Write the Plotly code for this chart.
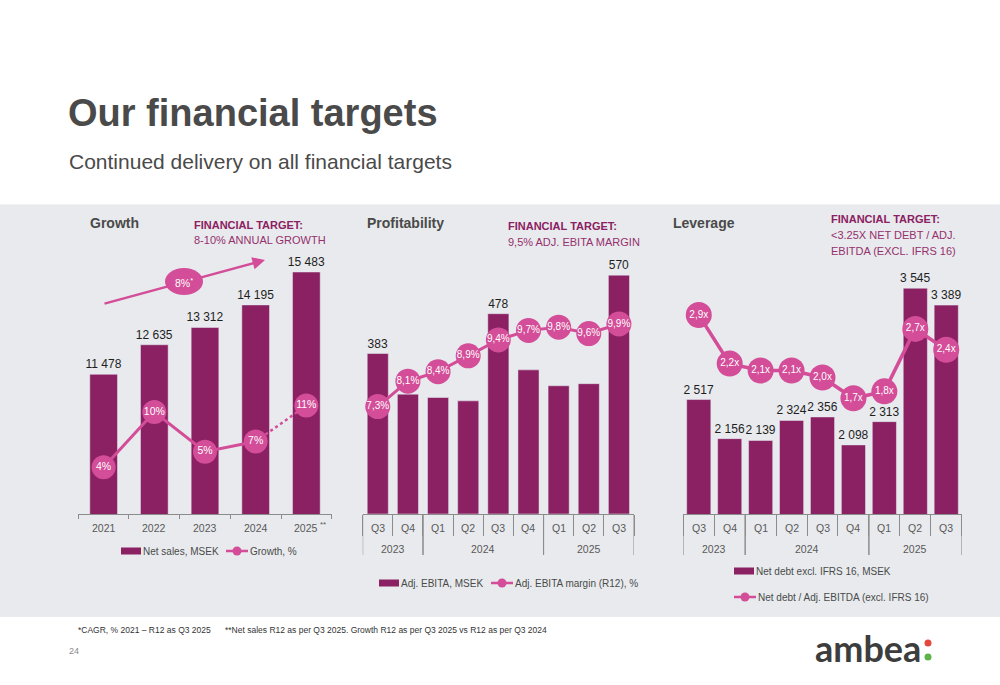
import plotly.graph_objects as go

# ---------------- data ----------------
years = ["2021", "2022", "2023", "2024", "2025"]
net_sales = [11478, 12635, 13312, 14195, 15483]
growth = [4.0, 10.0, 5.7, 6.8, 10.7]
growth_labels = ["4%", "10%", "5%", "7%", "11%"]
cagr_label = "8%"

quarters = ["Q3", "Q4", "Q1", "Q2", "Q3", "Q4", "Q1", "Q2", "Q3"]
quarter_years = ["2023", "2023", "2024", "2024", "2024", "2024", "2025", "2025", "2025"]
adj_ebita = [383, 286, 278, 270, 478, 344, 306, 311, 570]
ebita_shown = [True, False, False, False, True, False, False, False, True]
ebita_margin = [7.3, 8.1, 8.4, 8.9, 9.4, 9.7, 9.8, 9.6, 9.9]

net_debt = [2517, 2156, 2139, 2324, 2356, 2098, 2313, 3545, 3389]
leverage = [2.9, 2.2, 2.1, 2.1, 2.0, 1.7, 1.8, 2.7, 2.4]

# ---------------- style ----------------
W, H = 1000, 685
FONT = "Liberation Sans, Arial, sans-serif"
BAR = "#8b2062"
PINK = "#d34d98"
DARK = "#4a4a4a"
AXIS = "#8c8c8c"
TICKC = "#595959"
PANEL = "#e8eaed"
VAL = 12      # value labels above bars
TICK = 10.5   # axis labels
MK = 10       # labels inside markers
LEG = 10      # legend text


def py(y):
    return 1 - y / H


def px(x):
    return x / W


def sek(v):
    return f"{v:,}".replace(",", " ")


def comma(v, suffix):
    return f"{v:.1f}".replace(".", ",") + suffix


fig = go.Figure()
YDOM = [py(514), py(250)]

# ---------------- growth ----------------
xg = list(range(len(years)))
fig.add_trace(go.Bar(x=xg, y=net_sales, width=0.546, marker_color=BAR,
                     text=[sek(v) for v in net_sales], textposition="outside",
                     constraintext="none", cliponaxis=False,
                     textfont=dict(family=FONT, size=VAL, color="#1e1e1e"),
                     xaxis="x", yaxis="y", showlegend=False, hoverinfo="skip"))
fig.add_trace(go.Scatter(x=xg[:4], y=growth[:4], mode="lines",
                         line=dict(color=PINK, width=3),
                         xaxis="x", yaxis="y2", showlegend=False, hoverinfo="skip"))
fig.add_trace(go.Scatter(x=xg[3:], y=growth[3:], mode="lines",
                         line=dict(color=PINK, width=2.5, dash="dot"),
                         xaxis="x", yaxis="y2", showlegend=False, hoverinfo="skip"))
fig.add_trace(go.Scatter(x=xg, y=growth, mode="markers+text", text=growth_labels,
                         textposition="middle center",
                         textfont=dict(family=FONT, size=MK + 0.5, color="white"),
                         marker=dict(color=PINK, size=24),
                         xaxis="x", yaxis="y2", showlegend=False, hoverinfo="skip", cliponaxis=False))

# ---------------- profitability ----------------
xq = list(range(len(quarters)))
fig.add_trace(go.Bar(x=xq, y=adj_ebita, width=0.70, marker_color=BAR,
                     text=[sek(v) if s else "" for v, s in zip(adj_ebita, ebita_shown)],
                     textposition="outside", constraintext="none", cliponaxis=False,
                     textfont=dict(family=FONT, size=VAL, color="#1e1e1e"),
                     xaxis="x2", yaxis="y3", showlegend=False, hoverinfo="skip"))
fig.add_trace(go.Scatter(x=xq, y=ebita_margin, mode="lines+markers+text",
                         text=[comma(v, "%") for v in ebita_margin],
                         textposition="middle center",
                         textfont=dict(family=FONT, size=MK, color="white"),
                         line=dict(color=PINK, width=3),
                         marker=dict(color=PINK, size=25),
                         xaxis="x2", yaxis="y4", showlegend=False, hoverinfo="skip", cliponaxis=False))

# ---------------- leverage ----------------
fig.add_trace(go.Bar(x=xq, y=net_debt, width=0.78, marker_color=BAR,
                     text=[sek(v) for v in net_debt], textposition="outside",
                     constraintext="none", cliponaxis=False,
                     textfont=dict(family=FONT, size=VAL, color="#1e1e1e"),
                     xaxis="x3", yaxis="y5", showlegend=False, hoverinfo="skip"))
fig.add_trace(go.Scatter(x=xq, y=leverage, mode="lines+markers+text",
                         text=[comma(v, "x") for v in leverage],
                         textposition="middle center",
                         textfont=dict(family=FONT, size=MK, color="white"),
                         line=dict(color=PINK, width=3.5),
                         marker=dict(color=PINK, size=26),
                         xaxis="x3", yaxis="y6", showlegend=False, hoverinfo="skip", cliponaxis=False))

hidden_y = dict(visible=False, showgrid=False, zeroline=False, fixedrange=True)


def xax(dom, n, anchor, ticklen):
    return dict(domain=dom, range=[-0.5, n - 0.5], showgrid=False, zeroline=False,
                showline=True, linecolor=AXIS, linewidth=1, anchor=anchor,
                tickmode="array", tickvals=[i - 0.5 for i in range(n + 1)],
                ticks="outside", ticklen=ticklen, tickcolor=AXIS, tickwidth=1,
                showticklabels=False, fixedrange=True)


fig.update_layout(
    width=W, height=H, margin=dict(l=0, r=0, t=0, b=0),
    paper_bgcolor="white", plot_bgcolor="rgba(0,0,0,0)",
    font=dict(family=FONT, color=DARK),
    xaxis=xax([px(78.3), px(331.7)], 5, "y", 4),
    yaxis=dict(domain=YDOM, range=[6008, 16345], **hidden_y),
    yaxis2=dict(domain=YDOM, range=[-1.06, 27.57], overlaying="y", anchor="x", **hidden_y),
    xaxis2=xax([px(362.7), px(634)], 9, "y3", 21),
    yaxis3=dict(domain=YDOM, range=[0, 630], anchor="x2", **hidden_y),
    yaxis4=dict(domain=YDOM, range=[3.92, 12.23], overlaying="y3", anchor="x2", **hidden_y),
    xaxis3=xax([px(683.3), px(961.7)], 9, "y5", 21),
    yaxis5=dict(domain=YDOM, range=[1460, 3898], anchor="x3", **hidden_y),
    yaxis6=dict(domain=YDOM, range=[0.033, 3.837], overlaying="y5", anchor="x3", **hidden_y),
)

shapes = []
ann = []

# panel background
shapes.append(dict(type="rect", xref="paper", yref="paper", x0=0, x1=1, y0=py(617), y1=py(204.5),
                   fillcolor=PANEL, line=dict(width=0), layer="below"))


def text(x, y, s, size, color=DARK, bold=False, xanchor="left", xref="paper", family=FONT):
    ann.append(dict(x=x if xref != "paper" else px(x), y=py(y), xref=xref, yref="paper",
                    text=s, showarrow=False, xanchor=xanchor, yanchor="middle",
                    font=dict(family=family, size=size, color=color,
                              weight="bold" if bold else "normal")))


# title
text(66, 113, "Our financial targets", 38, "#4a4a4a", bold=True)
text(67, 161, "Continued delivery on all financial targets", 21, "#4a4a4a")

# section headings
text(88, 223, "Growth", 14, DARK, bold=True)
text(192, 225, "FINANCIAL TARGET:", 11, BAR, bold=True)
text(192, 240, "8-10% ANNUAL GROWTH", 11, "#96306e")
text(365, 223, "Profitability", 14, DARK, bold=True)
text(506, 226, "FINANCIAL TARGET:", 11, BAR, bold=True)
text(506, 242, "9,5% ADJ. EBITA MARGIN", 11, "#96306e")
text(671, 223, "Leverage", 14, DARK, bold=True)
text(829, 219, "FINANCIAL TARGET:", 11, BAR, bold=True)
text(829, 235, "<3.25X NET DEBT / ADJ.", 11, "#96306e")
text(829, 251, "EBITDA (EXCL. IFRS 16)", 11, "#96306e")

# growth x labels
for i, yr in enumerate(years):
    text(i, 528, yr, TICK, TICKC, xanchor="center", xref="x")
text(318, 524, "**", 8, TICKC)

# quarter / year labels and separators for the two quarterly charts
groups = []
for i, yv in enumerate(quarter_years):
    if groups and groups[-1][0] == yv:
        groups[-1][2] = i
    else:
        groups.append([yv, i, i])
for xr in ("x2", "x3"):
    for i, q in enumerate(quarters):
        text(i, 528, q, TICK, TICKC, xanchor="center", xref=xr)
    for yv, a, b in groups:
        text((a + b) / 2, 549, yv, TICK, TICKC, xanchor="center", xref=xr)
        for edge in (a - 0.5, b + 0.5):
            shapes.append(dict(type="line", xref=xr, yref="paper", x0=edge, x1=edge,
                               y0=py(514), y1=py(555), line=dict(color=AXIS, width=1)))

# CAGR arrow and bubble
ann.append(dict(x=px(265), y=py(260), xref="paper", yref="paper", ax=103 - 265, ay=304 - 260,
                axref="pixel", ayref="pixel", showarrow=True, arrowhead=2, arrowsize=1,
                arrowwidth=2.5, arrowcolor=PINK, text=""))
shapes.append(dict(type="circle", xref="paper", yref="paper", x0=px(165), x1=px(203),
                   y0=py(295), y1=py(268), fillcolor=PINK, line=dict(width=0)))
text(184, 282, cagr_label + "<sup>*</sup>", 10.5, "white", xanchor="center")


# legends
def leg_bar(x0, y, label):
    shapes.append(dict(type="rect", xref="paper", yref="paper", x0=px(x0), x1=px(x0 + 20),
                       y0=py(y + 3.5), y1=py(y - 3.5), fillcolor=BAR, line=dict(width=0)))
    text(x0 + 20, y, label, LEG, DARK)


def leg_line(x0, y, label):
    shapes.append(dict(type="line", xref="paper", yref="paper", x0=px(x0), x1=px(x0 + 22),
                       y0=py(y), y1=py(y), line=dict(color=PINK, width=2.5)))
    shapes.append(dict(type="circle", xref="paper", yref="paper", x0=px(x0 + 11 - 4.5),
                       x1=px(x0 + 11 + 4.5), y0=py(y + 4.5), y1=py(y - 4.5),
                       fillcolor=PINK, line=dict(width=0)))
    text(x0 + 22, y, label, LEG, DARK)


leg_bar(121, 551, "Net sales, MSEK")
leg_line(226, 551, "Growth, %")
leg_bar(379, 583, "Adj. EBITA, MSEK")
leg_line(491, 583, "Adj. EBITA margin (R12), %")
leg_bar(734, 571, "Net debt excl. IFRS 16, MSEK")
leg_line(734, 597, "Net debt / Adj. EBITDA (excl. IFRS 16)")

# footnotes
text(76, 630, "*CAGR, % 2021 – R12 as Q3 2025", 8.5, "#333333")
text(223, 630, "**Net sales R12 as per Q3 2025. Growth R12 as per Q3 2025 vs R12 as per Q3 2024", 8.5, "#333333")
text(67, 651, "24", 9, "#8c8c8c")

# logo
text(813, 648, "ambea", 36, "#3d3d3d", bold=True, family="Lato, Open Sans, sans-serif")
shapes.append(dict(type="circle", xref="paper", yref="paper", x0=px(924.5), x1=px(931.5),
                   y0=py(646.5), y1=py(639.5), fillcolor="#e2483d", line=dict(width=0)))
shapes.append(dict(type="circle", xref="paper", yref="paper", x0=px(924.5), x1=px(931.5),
                   y0=py(660.5), y1=py(653.5), fillcolor="#5db348", line=dict(width=0)))

fig.update_layout(shapes=shapes, annotations=ann)
fig.write_html("out.html")
